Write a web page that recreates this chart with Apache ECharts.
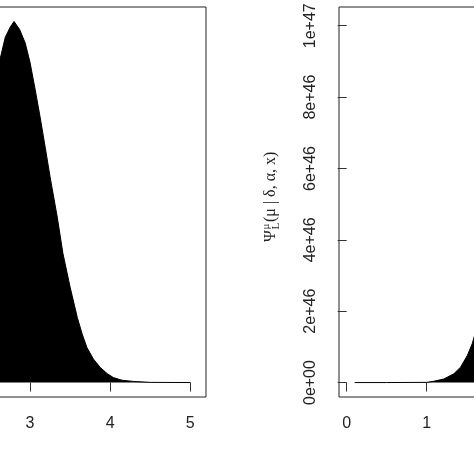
<!DOCTYPE html>
<html><head><meta charset="utf-8">
<script src="https://cdn.jsdelivr.net/npm/echarts@6/dist/echarts.min.js"></script>
<style>html,body{margin:0;padding:0;background:#fff}#c{width:474px;height:474px}</style>
</head><body><div id="c"></div>
<script>
// Left panel: normalised density
const leftX = [0.1, 0.5, 1.0, 1.4, 1.6, 1.8, 2.0, 2.2, 2.4, 2.5, 2.625, 2.69, 2.75, 2.8, 2.87, 2.94, 3.0, 3.06, 3.125, 3.19, 3.25, 3.34, 3.41, 3.5, 3.59, 3.65, 3.71, 3.79, 3.875, 3.96, 4.04, 4.15, 4.29, 4.5, 5.0];
const leftY = [0, 0, 0, 0.002, 0.01, 0.045, 0.155, 0.34, 0.6, 0.74, 0.85, 0.908, 0.934, 0.95, 0.929, 0.893, 0.842, 0.775, 0.699, 0.618, 0.541, 0.435, 0.34, 0.251, 0.171, 0.128, 0.092, 0.062, 0.04, 0.024, 0.013, 0.006, 0.003, 0.0005, 0];
// Right panel: unnormalised Psi
const rightX = [0.1, 0.5, 1.0, 1.09, 1.216, 1.34, 1.425, 1.51, 1.571, 1.6, 1.7, 1.8, 1.9, 2.0, 2.1, 2.2, 2.3, 2.4, 2.5, 2.6, 2.8, 3.0, 3.2, 3.4, 3.6, 3.8, 4.0, 4.5, 5.0];
const rightY = [0, 0, 0.005e46, 0.036e46, 0.10e46, 0.244e46, 0.43e46, 0.76e46, 1.09e46, 1.32e46, 2.3e46, 3.6e46, 5.1e46, 6.6e46, 8.0e46, 9.1e46, 9.8e46, 10.12e46, 9.9e46, 9.2e46, 7.0e46, 4.4e46, 2.2e46, 0.9e46, 0.3e46, 0.08e46, 0.02e46, 0, 0];
// Tick values / labels
const xTicks = [0, 1, 2, 3, 4, 5];
const leftYTicks = [0, 0.2, 0.4, 0.6, 0.8];
const rightYTicks = [0, 2e46, 4e46, 6e46, 8e46, 1e47];
const rightYTickLabels = ['0e+00', '2e+46', '4e+46', '6e+46', '8e+46', '1e+47'];

const pair = (xs, ys) => xs.map((x, i) => [x, ys[i]]);
const axisCol = '#333';
const labelFont = {fontSize: 16, color: '#222', fontFamily: 'Liberation Sans'};

function xAxis(gi) {
  return {
    type: 'value', gridIndex: gi, min: -0.096, max: 5.196,
    axisLine: {show: false}, splitLine: {show: false},
    axisTick: {show: true, customValues: xTicks, length: 9, lineStyle: {color: axisCol, width: 1}},
    axisLabel: Object.assign({customValues: xTicks, margin: 19}, labelFont)
  };
}

const chart = echarts.init(document.getElementById('c'), null, {renderer: 'canvas'});
chart.setOption({
  animation: false,
  backgroundColor: '#fff',
  grid: [
    {left: -218, right: 268, top: 7, bottom: 77, show: true, borderColor: '#222', borderWidth: 1, backgroundColor: 'transparent', containLabel: false, outerBoundsMode: 'none'},
    {left: 339, right: -288, top: 7, bottom: 77, show: true, borderColor: '#222', borderWidth: 1, backgroundColor: 'transparent', containLabel: false, outerBoundsMode: 'none'}
  ],
  xAxis: [xAxis(0), xAxis(1)],
  yAxis: [
    {type: 'value', gridIndex: 0, min: -0.038, max: 0.988,
     axisLine: {show: false}, splitLine: {show: false},
     axisTick: {show: true, customValues: leftYTicks, length: 9, lineStyle: {color: axisCol}},
     axisLabel: Object.assign({customValues: leftYTicks, rotate: 90, margin: 20}, labelFont)},
    {type: 'value', gridIndex: 1, min: -4.05e45, max: 1.0525e47,
     axisLine: {show: false}, splitLine: {show: false},
     axisTick: {show: true, customValues: rightYTicks, length: 9, lineStyle: {color: axisCol}},
     axisLabel: Object.assign({customValues: rightYTicks, rotate: 90, margin: 20,
       formatter: function (v) {
         let best = 0;
         rightYTicks.forEach((t, i) => { if (Math.abs(t - v) < Math.abs(rightYTicks[best] - v)) best = i; });
         return rightYTickLabels[best];
       }}, labelFont)}
  ],
  series: [
    {type: 'line', xAxisIndex: 0, yAxisIndex: 0, data: pair(leftX, leftY), symbol: 'none', smooth: false,
     lineStyle: {color: '#000', width: 1}, areaStyle: {color: '#000', opacity: 1}},
    {type: 'line', xAxisIndex: 1, yAxisIndex: 1, data: pair(rightX, rightY), symbol: 'none', smooth: false,
     lineStyle: {color: '#000', width: 1}, areaStyle: {color: '#000', opacity: 1}}
  ],
  graphic: [{
    type: 'group', x: 271, y: 196, rotation: Math.PI / 2,
    children: [
      {type: 'text', x: -46, y: 0, style: {text: 'Ψ', font: '16px "Liberation Serif"', fill: '#222', textVerticalAlign: 'middle', textAlign: 'left'}},
      {type: 'text', x: -33.5, y: -5, style: {text: 'μ', font: '11px "Liberation Serif"', fill: '#222', textVerticalAlign: 'middle', textAlign: 'left'}},
      {type: 'text', x: -33.5, y: 5, style: {text: 'L', font: '11px "Liberation Serif"', fill: '#222', textVerticalAlign: 'middle', textAlign: 'left'}},
      {type: 'text', x: -26, y: 0, style: {text: '(μ | δ, α, x)', font: '16px "Liberation Serif"', fill: '#222', textVerticalAlign: 'middle', textAlign: 'left'}}
    ]
  }]
});
</script>
</body></html>
